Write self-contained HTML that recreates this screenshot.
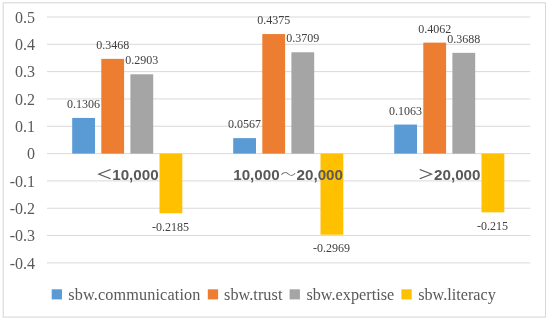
<!DOCTYPE html>
<html><head><meta charset="utf-8"><title>chart</title>
<style>
html,body{margin:0;padding:0;background:#fff;}
body{width:550px;height:320px;overflow:hidden;}
svg{display:block;filter:blur(0.35px);}
.ax{font-family:"Liberation Serif",serif;font-size:16px;fill:#595959;}
.dl{font-family:"Liberation Serif",serif;font-size:12px;fill:#404040;}
.lg{font-family:"Liberation Serif",serif;font-size:16.2px;fill:#595959;}
.cat{font-family:"Liberation Sans",sans-serif;font-weight:bold;font-size:15.4px;fill:#595959;}
.cj2{font-family:"Noto Sans CJK SC",sans-serif;font-weight:300;font-size:16px;fill:#595959;}
.cj{font-family:"Noto Sans CJK SC",sans-serif;font-weight:500;font-size:16px;fill:#595959;}
</style></head><body>
<svg width="550" height="320" viewBox="0 0 550 320">
<rect x="0" y="0" width="550" height="320" fill="#fff"/>
<rect x="3.2" y="2.8" width="542.3" height="314.3" fill="#fff" stroke="#D9D9D9" stroke-width="1.1"/>
<line x1="47.0" y1="17.00" x2="530.3" y2="17.00" stroke="#D9D9D9" stroke-width="1"/>
<line x1="47.0" y1="44.32" x2="530.3" y2="44.32" stroke="#D9D9D9" stroke-width="1"/>
<line x1="47.0" y1="71.64" x2="530.3" y2="71.64" stroke="#D9D9D9" stroke-width="1"/>
<line x1="47.0" y1="98.96" x2="530.3" y2="98.96" stroke="#D9D9D9" stroke-width="1"/>
<line x1="47.0" y1="126.28" x2="530.3" y2="126.28" stroke="#D9D9D9" stroke-width="1"/>
<line x1="47.0" y1="153.60" x2="530.3" y2="153.60" stroke="#D9D9D9" stroke-width="1"/>
<line x1="47.0" y1="180.92" x2="530.3" y2="180.92" stroke="#D9D9D9" stroke-width="1"/>
<line x1="47.0" y1="208.24" x2="530.3" y2="208.24" stroke="#D9D9D9" stroke-width="1"/>
<line x1="47.0" y1="235.56" x2="530.3" y2="235.56" stroke="#D9D9D9" stroke-width="1"/>
<line x1="47.0" y1="262.88" x2="530.3" y2="262.88" stroke="#D9D9D9" stroke-width="1"/>
<text x="35.1" y="22.75" text-anchor="end" class="ax">0.5</text>
<text x="35.1" y="50.07" text-anchor="end" class="ax">0.4</text>
<text x="35.1" y="77.39" text-anchor="end" class="ax">0.3</text>
<text x="35.1" y="104.71" text-anchor="end" class="ax">0.2</text>
<text x="35.1" y="132.03" text-anchor="end" class="ax">0.1</text>
<text x="35.1" y="159.35" text-anchor="end" class="ax">0</text>
<text x="35.1" y="186.67" text-anchor="end" class="ax">-0.1</text>
<text x="35.1" y="213.99" text-anchor="end" class="ax">-0.2</text>
<text x="35.1" y="241.31" text-anchor="end" class="ax">-0.3</text>
<text x="35.1" y="268.63" text-anchor="end" class="ax">-0.4</text>
<rect x="72.20" y="117.92" width="22.8" height="35.68" fill="#5B9BD5"/>
<text x="83.60" y="108.02" text-anchor="middle" class="dl">0.1306</text>
<rect x="101.30" y="58.85" width="22.8" height="94.75" fill="#ED7D31"/>
<text x="112.70" y="48.95" text-anchor="middle" class="dl">0.3468</text>
<rect x="130.40" y="74.29" width="22.8" height="79.31" fill="#A5A5A5"/>
<text x="141.80" y="64.39" text-anchor="middle" class="dl">0.2903</text>
<rect x="159.50" y="153.60" width="22.8" height="59.69" fill="#FFC000"/>
<text x="170.40" y="230.89" text-anchor="middle" class="dl">-0.2185</text>
<rect x="233.20" y="138.11" width="22.8" height="15.49" fill="#5B9BD5"/>
<text x="244.60" y="128.21" text-anchor="middle" class="dl">0.0567</text>
<rect x="262.30" y="34.07" width="22.8" height="119.53" fill="#ED7D31"/>
<text x="273.70" y="24.17" text-anchor="middle" class="dl">0.4375</text>
<rect x="291.40" y="52.27" width="22.8" height="101.33" fill="#A5A5A5"/>
<text x="302.80" y="42.37" text-anchor="middle" class="dl">0.3709</text>
<rect x="320.50" y="153.60" width="22.8" height="81.11" fill="#FFC000"/>
<text x="331.40" y="252.31" text-anchor="middle" class="dl">-0.2969</text>
<rect x="394.20" y="124.56" width="22.8" height="29.04" fill="#5B9BD5"/>
<text x="405.60" y="114.66" text-anchor="middle" class="dl">0.1063</text>
<rect x="423.30" y="42.63" width="22.8" height="110.97" fill="#ED7D31"/>
<text x="434.70" y="32.73" text-anchor="middle" class="dl">0.4062</text>
<rect x="452.40" y="52.84" width="22.8" height="100.76" fill="#A5A5A5"/>
<text x="463.80" y="42.94" text-anchor="middle" class="dl">0.3688</text>
<rect x="481.50" y="153.60" width="22.8" height="58.74" fill="#FFC000"/>
<text x="492.40" y="229.94" text-anchor="middle" class="dl">-0.215</text>
<text transform="translate(95.8,179.1) scale(1.07,0.825)" class="cj">＜</text><text x="112.2" y="180" class="cat" textLength="46.5" lengthAdjust="spacingAndGlyphs">10,000</text>
<text x="233.2" y="180" class="cat" textLength="46.5" lengthAdjust="spacingAndGlyphs">10,000</text><text transform="translate(280.4,179.1) scale(0.98,0.825)" class="cj2">～</text><text x="296.5" y="180" class="cat" textLength="46.5" lengthAdjust="spacingAndGlyphs">20,000</text>
<text transform="translate(417.4,179.1) scale(1.07,0.825)" class="cj">＞</text><text x="434.0" y="180" class="cat" textLength="46.5" lengthAdjust="spacingAndGlyphs">20,000</text>
<rect x="51.7" y="289.3" width="10.3" height="10.1" fill="#5B9BD5"/>
<text x="68.2" y="299.5" class="lg" textLength="132.2" lengthAdjust="spacing">sbw.communication</text>
<rect x="207.8" y="289.3" width="10.3" height="10.1" fill="#ED7D31"/>
<text x="224" y="299.5" class="lg" textLength="58.4" lengthAdjust="spacing">sbw.trust</text>
<rect x="289.6" y="289.3" width="10.3" height="10.1" fill="#A5A5A5"/>
<text x="306.4" y="299.5" class="lg" textLength="87.8" lengthAdjust="spacing">sbw.expertise</text>
<rect x="401.4" y="289.3" width="10.3" height="10.1" fill="#FFC000"/>
<text x="418.2" y="299.5" class="lg" textLength="77.6" lengthAdjust="spacing">sbw.literacy</text>
</svg>
</body></html>
